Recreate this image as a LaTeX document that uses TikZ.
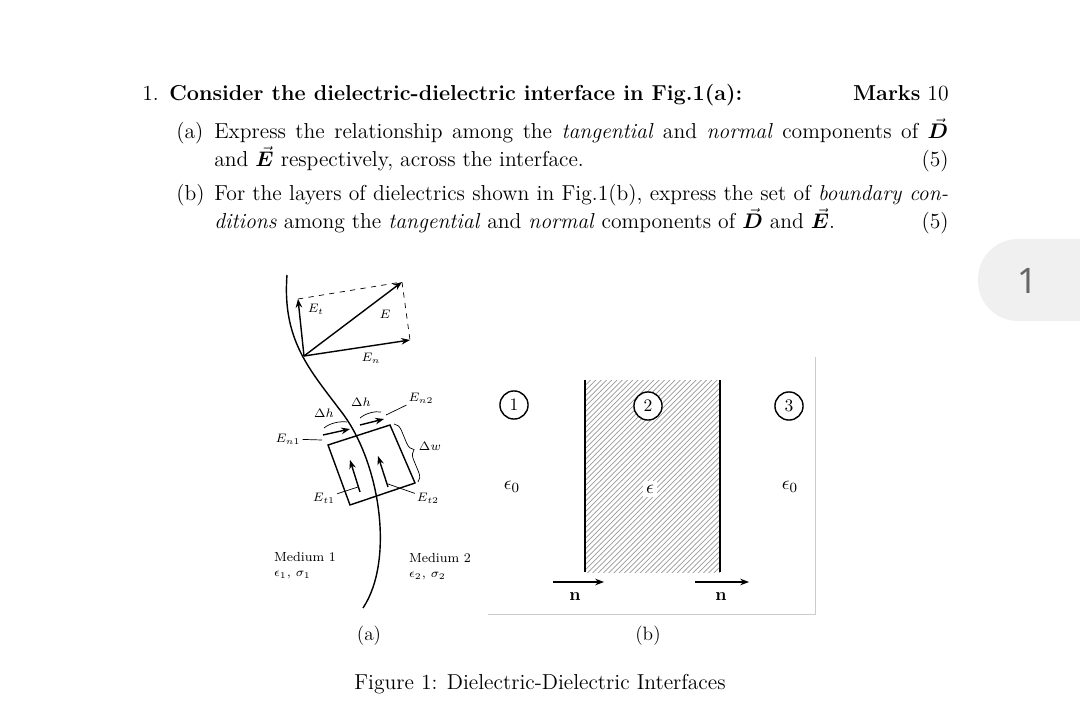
\documentclass[tikz,border=0pt]{standalone}
\usepackage{amsmath,bm}
\usepackage{fontspec}
\newfontfamily\tabfont{Noto Sans}
\usetikzlibrary{patterns,decorations.pathreplacing,arrows.meta}
\tikzset{
  txt/.style={anchor=base west,inner sep=0pt,font=\fontsize{12.3}{14}\selectfont},
  lab/.style={inner sep=1pt,font=\fontsize{7.5}{8}\selectfont},
  vec/.style={thick,-{Stealth[length=5pt]}},
  lead/.style={thin},
  num/.style={draw,circle,thick,minimum size=16pt,inner sep=0pt,font=\fontsize{10}{11}\selectfont}
}
\begin{document}
\begin{tikzpicture}[x=0.02cm,y=-0.02cm]
\useasboundingbox (0,0) rectangle (1080,723);
% question text
\node[txt] (q1) at (142,101) {1.};
\node[txt] (q1t) at (169,101) {\textbf{Consider the dielectric-dielectric interface in Fig.1(a):}};
\node[txt,anchor=base east] (mk) at (949,101) {\textbf{Marks} 10};
\node[txt] (qa) at (176,139) {(a)};
\node[txt] (qa1) at (214,139) {\makebox[14.68cm][s]{Express the relationship among the \textit{tangential} and \textit{normal} components of $\vec{\bm D}$}};
\node[txt] (qa2) at (214,167) {and $\vec{\bm E}$ respectively, across the interface.};
\node[txt,anchor=base east] (qa5) at (949,167) {(5)};
\node[txt] (qb) at (176,201) {(b)};
\node[txt] (qb1) at (214,201) {\makebox[14.68cm][s]{For the layers of dielectrics shown in Fig.1(b), express the set of \textit{boundary con-}}};
\node[txt] (qb2) at (214,229) {\textit{ditions} among the \textit{tangential} and \textit{normal} components of $\vec{\bm D}$ and $\vec{\bm E}$.};
\node[txt,anchor=base east] (qb5) at (949,229) {(5)};
% page tab
\fill[gray!12,rounded corners=0.8cm] (978,239) rectangle (1140,321);
\node[font=\tabfont\fontsize{20}{22}\selectfont,text=gray!80!black] (tab) at (1028,281) {1};
% figure (a)
\draw[thick] (287,275) .. controls (282,340) and (310,370) .. (340,410)
  .. controls (380,460) and (395,560) .. (363,608);
\coordinate (o) at (304,356);
\coordinate (et) at (298,299);
\coordinate (en) at (410,340);
\coordinate (e) at (402,282);
\draw[dashed] (et) -- (e) -- (en);
\draw[vec] (o) -- (et);
\draw[vec] (o) -- (en);
\draw[vec] (o) -- (e);
\node[lab] (lEt) at (316,309) {$E_t$};
\node[lab] (lE) at (385,314) {$E$};
\node[lab] (lEn) at (371,358) {$E_n$};
\draw[thick] (328,445) -- (390,425) -- (415,483) -- (350,505) -- cycle;
\draw[vec] (360,492) -- (350,460);
\draw[vec] (388,487) -- (378,456);
\draw[vec] (323,435) -- (350,429);
\draw[vec] (360,425) -- (384,419);
\draw (324,428) .. controls (330,423) and (340,421) .. (347,422);
\draw (360,418) .. controls (366,413) and (375,411) .. (381,412);
\node[lab] (dh1) at (324,413) {$\Delta h$};
\node[lab] (dh2) at (361,402) {$\Delta h$};
\node[lab] (lEn1) at (288,439) {$E_{n1}$};
\node[lab] (lEn2) at (421,398) {$E_{n2}$};
\node[lab] (lEt1) at (324,498) {$E_{t1}$};
\node[lab] (lEt2) at (428,498) {$E_{t2}$};
\draw[lead] (lEn1) -- (322,440);
\draw[lead] (lEn2) -- (386,415);
\draw[lead] (lEt1) -- (358,487);
\draw[lead] (lEt2) -- (388,484);
\draw[decorate,decoration={brace,amplitude=5pt}] (394,424) -- (418,482);
\node[lab] (dw) at (430,446) {$\Delta w$};
\node[lab,anchor=west] (m1) at (272,557) {Medium 1};
\node[lab,anchor=west] (s1) at (272,575) {$\epsilon_1,\,\sigma_1$};
\node[lab,anchor=west] (m2) at (407,558) {Medium 2};
\node[lab,anchor=west] (s2) at (407,576) {$\epsilon_2,\,\sigma_2$};
% figure (b)
\draw[gray!40] (815,357) -- (815,614) -- (488,614);
\fill[pattern=north east lines,pattern color=gray!80] (585,380) rectangle (720,572);
\draw[very thick] (585,380) -- (585,572);
\draw[very thick] (720,380) -- (720,572);
\node[num] (r1) at (514,405) {1};
\node[num,fill=white] (r2) at (648,406) {2};
\node[num] (r3) at (789,406) {3};
\node[font=\fontsize{11}{12}\selectfont] (e1) at (512,487) {$\epsilon_0$};
\node[font=\fontsize{11}{12}\selectfont,fill=white,inner sep=2pt] (e2) at (650,489) {$\epsilon$};
\node[font=\fontsize{11}{12}\selectfont] (e3) at (790,487) {$\epsilon_0$};
\coordinate (n1a) at (553,582); \coordinate (n1b) at (604,582);
\coordinate (n2a) at (695,582); \coordinate (n2b) at (749,582);
\draw[vec] (n1a) -- (n1b);
\draw[vec] (n2a) -- (n2b);
\node[font=\fontsize{10}{10}\selectfont\bfseries] (ln1) at (575,597) {n};
\node[font=\fontsize{10}{10}\selectfont\bfseries] (ln2) at (721,597) {n};
% captions
\node[font=\fontsize{11}{12}\selectfont] (ca) at (369,636) {(a)};
\node[font=\fontsize{11}{12}\selectfont] (cb) at (648,636) {(b)};
\node[txt,anchor=base] (cap) at (540,689) {Figure 1: Dielectric-Dielectric Interfaces};
\end{tikzpicture}
\end{document}
